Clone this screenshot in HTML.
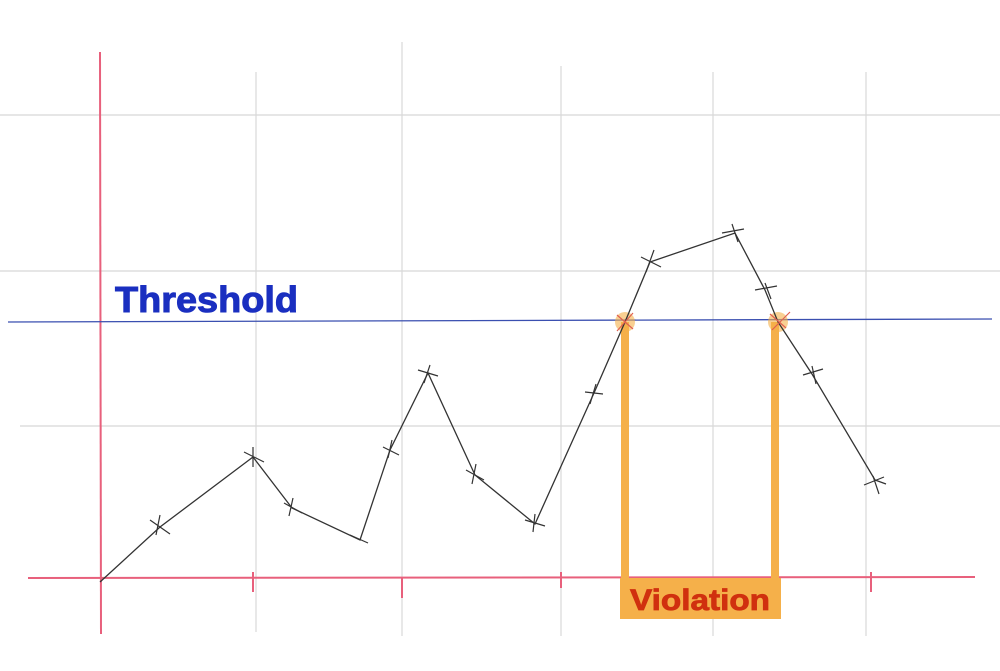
<!DOCTYPE html>
<html><head><meta charset="utf-8"><style>html,body{margin:0;padding:0;background:#fff}</style></head>
<body>
<svg width="1000" height="666" xmlns="http://www.w3.org/2000/svg">
<rect width="1000" height="666" fill="#fff"/>
<g stroke="#d8d8d8" stroke-width="1.2">
<line x1="256" y1="72" x2="256" y2="632"/>
<line x1="402" y1="42" x2="402" y2="636"/>
<line x1="561" y1="66" x2="561" y2="636"/>
<line x1="713" y1="72" x2="713" y2="636"/>
<line x1="866" y1="72" x2="866" y2="636"/>
<line x1="0" y1="115" x2="1000" y2="115"/>
<line x1="0" y1="271" x2="1000" y2="271"/>
<line x1="20" y1="426" x2="1000" y2="426"/>
</g>
<g stroke="#e8607c" stroke-width="2" fill="none">
<line x1="100" y1="52" x2="101" y2="634"/>
<line x1="28" y1="578" x2="975" y2="577"/>
<line x1="253" y1="572" x2="253" y2="592"/>
<line x1="402" y1="578" x2="402" y2="598"/>
<line x1="561" y1="572" x2="561" y2="588"/>
<line x1="871" y1="572" x2="871" y2="592"/>
</g>
<line x1="8" y1="322" x2="992" y2="319" stroke="#3a4fb0" stroke-width="1.3"/>
<text x="115" y="312" textLength="183" lengthAdjust="spacingAndGlyphs" font-family="Liberation Sans, sans-serif" font-weight="bold" font-size="36" fill="#1a2fc0" stroke="#1a2fc0" stroke-width="1">Threshold</text>
<g fill="#f5b04a">
<rect x="621" y="322" width="8" height="258"/>
<rect x="771" y="322" width="8" height="258"/>
<rect x="620" y="578" width="161" height="41"/>
<circle cx="625" cy="322" r="10" opacity="0.6"/>
<circle cx="778" cy="322" r="10" opacity="0.6"/>
</g>
<text x="630" y="610" textLength="140" lengthAdjust="spacingAndGlyphs" font-family="Liberation Sans, sans-serif" font-weight="bold" font-size="30" fill="#d0300f" stroke="#d0300f" stroke-width="0.8">Violation</text>
<polyline fill="none" stroke="#333" stroke-width="1.3" points="100,582 160,527 253,457 292,508 360,540 390,450 428,373 475,475 535,524 594,393 625,322 650,262 735,233 765,290 778,322 812,374 875,480 886,484"/>
<g stroke="#333" stroke-width="1.2">
<path d="M150,520 l20,14 M160,515 l-4,20"/>
<path d="M244,452 l20,10 M253,447 l0,20"/>
<path d="M284,503 l18,10 M293,498 l-4,18"/>
<path d="M350,535 l18,8"/>
<path d="M383,447 l16,8 M392,440 l-4,18"/>
<path d="M418,370 l20,6 M430,365 l-6,18"/>
<path d="M466,470 l18,10 M476,464 l-4,20"/>
<path d="M525,520 l20,6 M535,514 l-2,18"/>
<path d="M585,392 l18,2 M596,384 l-6,20"/>
<path d="M617,315 l16,14 M633,313 l-16,18" stroke="#e06050"/>
<path d="M641,257 l20,10 M654,250 l-8,22"/>
<path d="M722,233 l22,-4 M732,224 l6,18"/>
<path d="M755,290 l22,-4 M765,283 l6,16"/>
<path d="M770,314 l16,14 M790,312 l-18,18" stroke="#e06050"/>
<path d="M803,375 l20,-6 M812,366 l4,18"/>
<path d="M864,485 l20,-8 M873,476 l6,18"/>
</g>
</svg>
</body></html>
